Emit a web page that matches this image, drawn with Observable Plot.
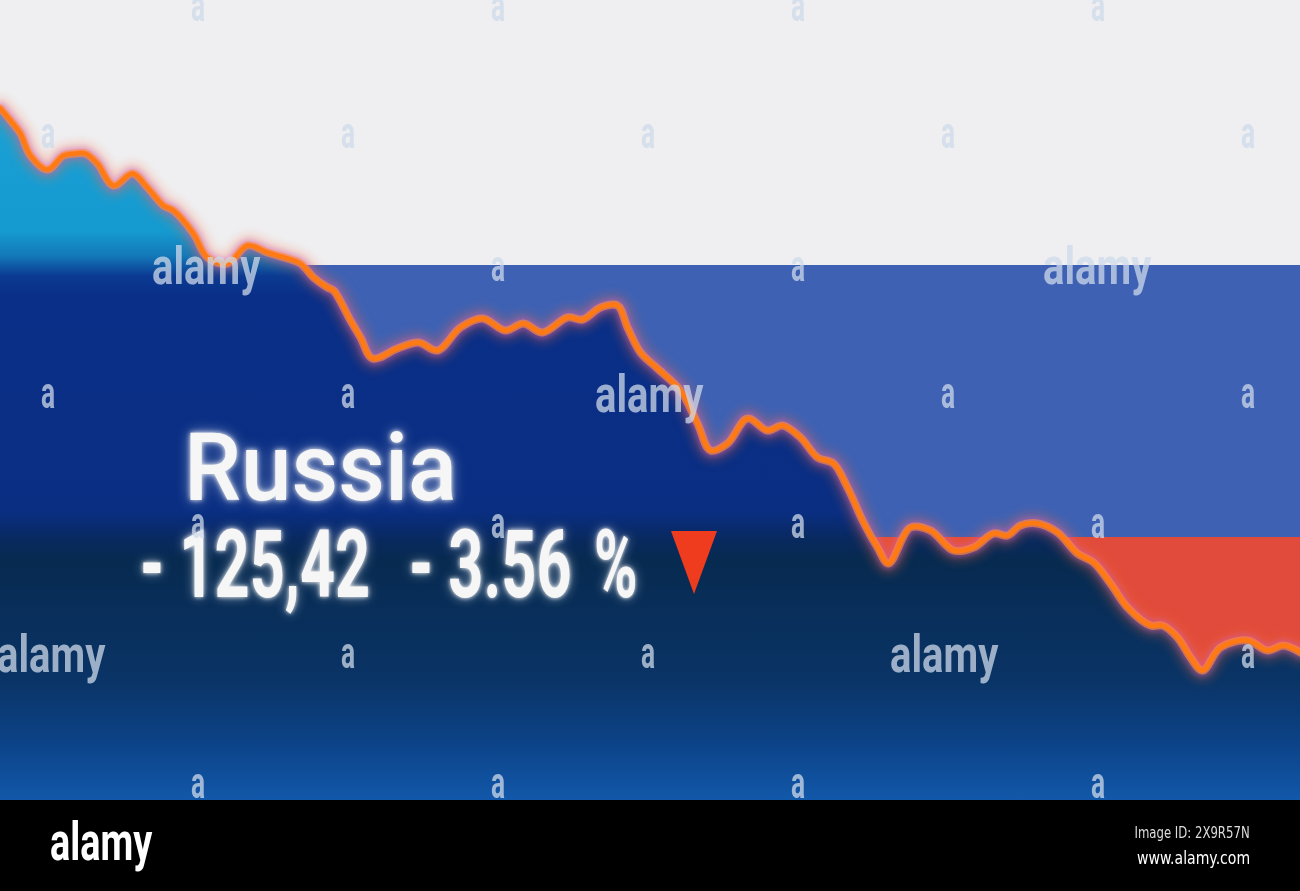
<!DOCTYPE html>
<html><head><meta charset="utf-8">
<script src="https://cdn.jsdelivr.net/npm/d3@7"></script>
<script src="https://cdn.jsdelivr.net/npm/@observablehq/plot@0.6"></script>
<style>
html,body{margin:0;padding:0;background:#000;}
body{width:1300px;height:891px;overflow:hidden;font-family:Roboto,"Noto Sans",sans-serif;}
#stage{position:relative;width:1300px;height:800px;overflow:hidden;background:#efeff1;}
#stage > svg{position:absolute;left:0;top:0;}
.t{position:absolute;white-space:pre;line-height:1;transform-origin:0 0;}
.big{color:#f6f6f6;text-shadow:0 0 5px rgba(255,255,255,0.95),0 0 14px rgba(255,255,255,0.55);}
.wm{color:rgba(205,217,234,0.75);font-weight:700;}
#footer{position:relative;width:1300px;height:91px;background:#000;overflow:hidden;}
</style></head>
<body>
<svg width="0" height="0" style="position:absolute">
  <defs>
    <linearGradient id="underGrad" gradientUnits="userSpaceOnUse" x1="0" y1="0" x2="0" y2="800">
      <stop offset="0" stop-color="#1fa8dc"/>
      <stop offset="0.29" stop-color="#159ad0"/>
      <stop offset="0.32" stop-color="#1378b8"/>
      <stop offset="0.345" stop-color="#0b3a92"/>
      <stop offset="0.37" stop-color="#0a2f88"/>
      <stop offset="0.64" stop-color="#0a2e82"/>
      <stop offset="0.675" stop-color="#08295e"/>
      <stop offset="0.70" stop-color="#072a50"/>
      <stop offset="0.85" stop-color="#0a3466"/>
      <stop offset="0.93" stop-color="#0c4388"/>
      <stop offset="1" stop-color="#1258aa"/>
    </linearGradient>
  </defs>
</svg>
<div id="stage"></div>
<div id="footer"></div>
<script>
// ---- data ----
const sessions = [0,10,20,30,47,63,75,85,97,113,132,147,163,173,193,207,227,247,267,287,300,313,327,333,350,360,372,397,418,437,460,482,505,523,542,567,582,600,617,627,640,657,680,697,710,727,747,767,782,800,817,833,847,863,877,888,910,930,953,973,993,1007,1020,1037,1057,1077,1093,1110,1127,1150,1162,1177,1190,1202,1220,1247,1267,1283,1300];
const closes = [3646,3640,3633.5,3622.5,3615.5,3622.5,3623.5,3623.5,3618.5,3607.5,3613.5,3606.5,3597.5,3595,3583.5,3571.5,3568.5,3577.5,3574,3571,3568.5,3561.5,3556.5,3555,3540,3531.5,3521,3526,3529,3525,3536.5,3541,3535,3538.5,3534,3541.5,3540.5,3546.5,3547.5,3536.5,3524,3516,3505,3488.5,3475,3478.5,3491,3485,3487.5,3481.5,3471.5,3468.5,3456.5,3439,3426.5,3418.5,3436.5,3435,3425,3426.5,3433.5,3432.5,3437.5,3438.5,3434,3423.5,3419,3408.5,3396.5,3387.5,3387.5,3381.5,3371.5,3365,3376.5,3380,3375,3377.5,3374];
const stripeNames = ["white","blue","red"];
const stripeTops = [3700,3567.5,3431.5];
const stripeBottoms = [3567.5,3431.5,3300];
const labelName = "Russia";
const changeAbs = "- 125,42";
const changePct = "- 3.56";
const pctSign = "%";

// ---- styles ----
const stripeColors = {white:"#efeff1", blue:"#3e61b4", red:"#e04b3b"};
const xDomain = [0,1300];
const yDomain = [3300,3700];

const series = sessions.map((s,i)=>({session:s, close:closes[i]}));
const stripes = stripeNames.map((n,i)=>({name:n, top:stripeTops[i], bottom:stripeBottoms[i]}));

const curve = "catmull-rom";
const chart = Plot.plot({
  width:1300, height:800,
  marginTop:0, marginRight:0, marginBottom:0, marginLeft:0,
  x:{domain:xDomain, axis:null},
  y:{domain:yDomain, axis:null},
  color:{type:"identity"},
  style:{background:"transparent", overflow:"hidden"},
  marks:[
    Plot.rect(stripes, {x1:()=>xDomain[0], x2:()=>xDomain[1], y1:"bottom", y2:"top", fill:d=>stripeColors[d.name]}),
    Plot.areaY(series, {x:"session", y1:yDomain[0], y2:"close", curve, fill:"url(#underGrad)"}),
    Plot.line(series, {x:"session", y:"close", curve, stroke:"#ff6a3a", strokeWidth:22, strokeOpacity:0.25}),
    Plot.line(series, {x:"session", y:"close", curve, stroke:"#c860c0", strokeWidth:12, strokeOpacity:0.45}),
    Plot.line(series, {x:"session", y:"close", curve, stroke:"#ff8a3a", strokeWidth:8, strokeOpacity:0.65}),
    Plot.line(series, {x:"session", y:"close", curve, stroke:"#ff7a12", strokeWidth:4.5})
  ]
});
const stage = document.getElementById("stage");
stage.appendChild(chart);
const glow = chart.querySelectorAll('g[aria-label="line"]');
if (glow.length) { glow[0].style.filter = "blur(5px)"; if (glow[1]) glow[1].style.filter = "blur(2.5px)"; }

// ---- overlay text ----
function place(parent, text, left, baseline, fs, sx, cls, weight){
  const d = document.createElement("div");
  d.className = "t " + cls;
  d.textContent = text;
  d.style.left = left + "px";
  d.style.top = (baseline - 0.842*fs) + "px";
  d.style.fontSize = fs + "px";
  if (weight) d.style.fontWeight = weight;
  d.style.transform = "scaleX(" + sx + ")";
  parent.appendChild(d);
  return d;
}
place(stage, labelName, 184, 500, 95, 0.955, "big", 500);
place(stage, changeAbs, 140, 597, 95, 0.645, "big", 700);
place(stage, changePct, 409, 597, 95, 0.645, "big", 700);
place(stage, pctSign, 594, 597, 95, 0.62, "big", 700);

const tri = document.createElement("div");
tri.style.cssText = "position:absolute;left:671px;top:531px;width:0;height:0;border-left:23px solid transparent;border-right:23px solid transparent;border-top:63px solid #f03c1e;";
stage.appendChild(tri);

// watermarks
const wmBig = [[152,285],[595,413],[1043,285],[-3,673],[890,673]];
wmBig.forEach(([x,y])=>place(stage,"alamy",x,y,52,0.77,"wm"));
const wmSmall = [[198,10],[498,10],[798,10],[1098,10],[48,137],[348,137],[648,137],[948,137],[1248,137],[498,270],[798,270],[48,397],[348,397],[948,397],[1248,397],[198,527],[498,527],[798,527],[1098,527],[348,657],[648,657],[1248,657],[198,787],[498,787],[798,787],[1098,787]];
wmSmall.forEach(([x,y])=>place(stage,"a",x-7,y+11,44,0.6,"wm"));

// footer
const footer = document.getElementById("footer");
place(footer,"alamy",50,60,54,0.7,"", 700).style.color="#fff";
const id = document.createElement("div");
id.style.cssText="position:absolute;right:50px;top:24px;font-family:'DejaVu Sans',sans-serif;font-size:15px;color:#ddd;transform:scaleX(0.78);transform-origin:100% 0;white-space:pre;";
id.textContent = "Image ID: 2X9R57N";
footer.appendChild(id);
const www = document.createElement("div");
www.style.cssText="position:absolute;right:50px;top:47px;font-family:'DejaVu Sans',sans-serif;font-size:18px;color:#fff;transform:scaleX(0.78);transform-origin:100% 0;white-space:pre;";
www.textContent = "www.alamy.com";
footer.appendChild(www);
</script>
</body></html>
